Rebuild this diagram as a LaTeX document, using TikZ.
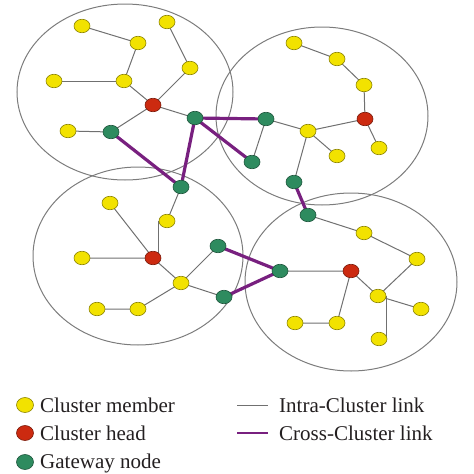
\documentclass[tikz,border=0pt]{standalone}
\usepackage{fontspec}
\setmainfont{Liberation Serif}
\usetikzlibrary{backgrounds,shapes.geometric}
\definecolor{ymem}{HTML}{F2E200}
\definecolor{ymemd}{HTML}{8C8400}
\definecolor{hred}{HTML}{CC2A10}
\definecolor{hredd}{HTML}{7A1A0A}
\definecolor{ggreen}{HTML}{2E8B5F}
\definecolor{ggreend}{HTML}{1E553C}
\definecolor{xpurple}{HTML}{78207F}
\definecolor{linkgray}{HTML}{707070}
\definecolor{clgray}{HTML}{7C7C7C}
\definecolor{txt}{HTML}{231F20}
\begin{document}
\begin{tikzpicture}[x=1pt,y=-1pt,
 nd/.style={ellipse,draw,line width=0.6pt,minimum width=16pt,minimum height=13.5pt,inner sep=0pt},
 mem/.style={nd,fill=ymem,draw=ymemd},
 head/.style={nd,fill=hred,draw=hredd},
 gw/.style={nd,fill=ggreen,draw=ggreend},
 lnd/.style={minimum width=17pt,minimum height=15pt},
 intra/.style={draw=linkgray,line width=1pt},
 cross/.style={draw=xpurple,line width=3.2pt},
 clus/.style={draw=clgray,line width=1pt},
 lab/.style={anchor=base west,inner sep=0pt,text=txt,font=\fontsize{21}{25}\selectfont}]
\useasboundingbox (0,0) rectangle (474,474);
% cluster 1
\node[mem] (a1) at (82,26) {};
\node[mem] (a2) at (138,43) {};
\node[mem] (a3) at (167,22) {};
\node[mem] (a4) at (190,68) {};
\node[mem] (a5) at (54,81) {};
\node[mem] (a6) at (124,81) {};
\node[head] (h1) at (153,105) {};
\node[gw] (g1) at (111,132) {};
\node[mem] (a7) at (68,131) {};
\node[gw] (g2) at (195,118) {};
\node[gw] (g3) at (181,187) {};
% cluster 2
\node[mem] (b1) at (294,43) {};
\node[mem] (b2) at (337,59) {};
\node[mem] (b3) at (364,85) {};
\node[head] (h2) at (365,119) {};
\node[mem] (b4) at (379,148) {};
\node[mem] (b5) at (308,131) {};
\node[mem] (b6) at (337,156) {};
\node[gw] (g4) at (266,119) {};
\node[gw] (g5) at (252,162) {};
\node[gw] (g6) at (294,182) {};
\node[gw] (g7) at (308,215) {};
% cluster 3
\node[mem] (c1) at (110,203) {};
\node[mem] (c2) at (167,221) {};
\node[mem] (c3) at (82,258) {};
\node[head] (h3) at (153,258) {};
\node[gw] (g8) at (218,246) {};
\node[mem] (c4) at (181,283) {};
\node[gw] (g9) at (224,297) {};
\node[mem] (c5) at (97,309) {};
\node[mem] (c6) at (138,309) {};
% cluster 4
\node[mem] (d1) at (364,233) {};
\node[mem] (d2) at (417,259) {};
\node[gw] (g10) at (280,271) {};
\node[head] (h4) at (351,271) {};
\node[mem] (d3) at (378,296) {};
\node[mem] (d4) at (421,309) {};
\node[mem] (d5) at (295,323) {};
\node[mem] (d6) at (337,323) {};
\node[mem] (d7) at (379,339) {};
\begin{scope}[on background layer]
\draw[clus] (125,92) ellipse [x radius=108pt, y radius=88pt];
\draw[clus] (322,116) ellipse [x radius=106pt, y radius=89pt];
\draw[clus] (138,256) ellipse [x radius=105pt, y radius=89pt];
\draw[clus] (351,282) ellipse [x radius=106pt, y radius=89pt];
% intra links
\draw[intra] (a1.center) -- (a2.center) -- (a6.center) -- (h1.center);
\draw[intra] (a5.center) -- (a6.center);
\draw[intra] (a3.center) -- (a4.center);
\draw[intra] (h1.center) -- (a4.center);
\draw[intra] (h1.center) -- (g2.center);
\draw[intra] (h1.center) -- (g1.center) -- (a7.center);
\draw[intra] (b1.center) -- (b2.center) -- (b3.center) -- (h2.center) -- (b4.center);
\draw[intra] (h2.center) -- (b5.center) -- (g4.center) -- (g5.center);
\draw[intra] (b5.center) -- (b6.center);
\draw[intra] (b5.center) -- (g6.center);
\draw[intra] (g3.center) -- (c2.center);
\draw[intra] (c2.west) -- (c2.west |- h3.center);
\draw[intra] (c1.center) -- (h3.center) -- (c3.center);
\draw[intra] (h3.center) -- (c4.center) -- (g8.center);
\draw[intra] (c4.center) -- (g9.center);
\draw[intra] (c4.center) -- (c6.center) -- (c5.center);
\draw[intra] (g7.center) -- (d1.center) -- (d2.center) -- (d3.center);
\draw[intra] (g10.center) -- (h4.center) -- (d3.center) -- (d4.center);
\draw[intra] (d3.east) -- (d3.east |- d7.center);
\draw[intra] (h4.center) -- (d6.center) -- (d5.center);
% cross links
\draw[cross,line join=round] (g1.center) -- (g3.center) -- (g2.center) -- (g4.center);
\draw[cross] (g2.center) -- (g5.center);
\draw[cross] (g6.center) -- (g7.center);
\draw[cross,line join=round] (g8.center) -- (g10.center) -- (g9.center);
\end{scope}
% legend
\node[mem,lnd] (lm) at (25,405) {};
\node[head,lnd] (lh) at (25,433) {};
\node[gw,lnd] (lg) at (25,462) {};
\node[lab] (tm) at (40,412) {Cluster member};
\node[lab] (th) at (40,440) {Cluster head};
\node[lab] (tg) at (40,468) {Gateway node};
\coordinate (li1) at (237,405);
\coordinate (li2) at (268,405);
\coordinate (lc1) at (237,433);
\coordinate (lc2) at (268,433);
\draw[intra] (li1) -- (li2);
\draw[cross,line width=2.4pt] (lc1) -- (lc2);
\node[lab] (ti) at (279,412) {Intra-Cluster link};
\node[lab] (tc) at (279,440) {Cross-Cluster link};
\end{tikzpicture}
\end{document}
